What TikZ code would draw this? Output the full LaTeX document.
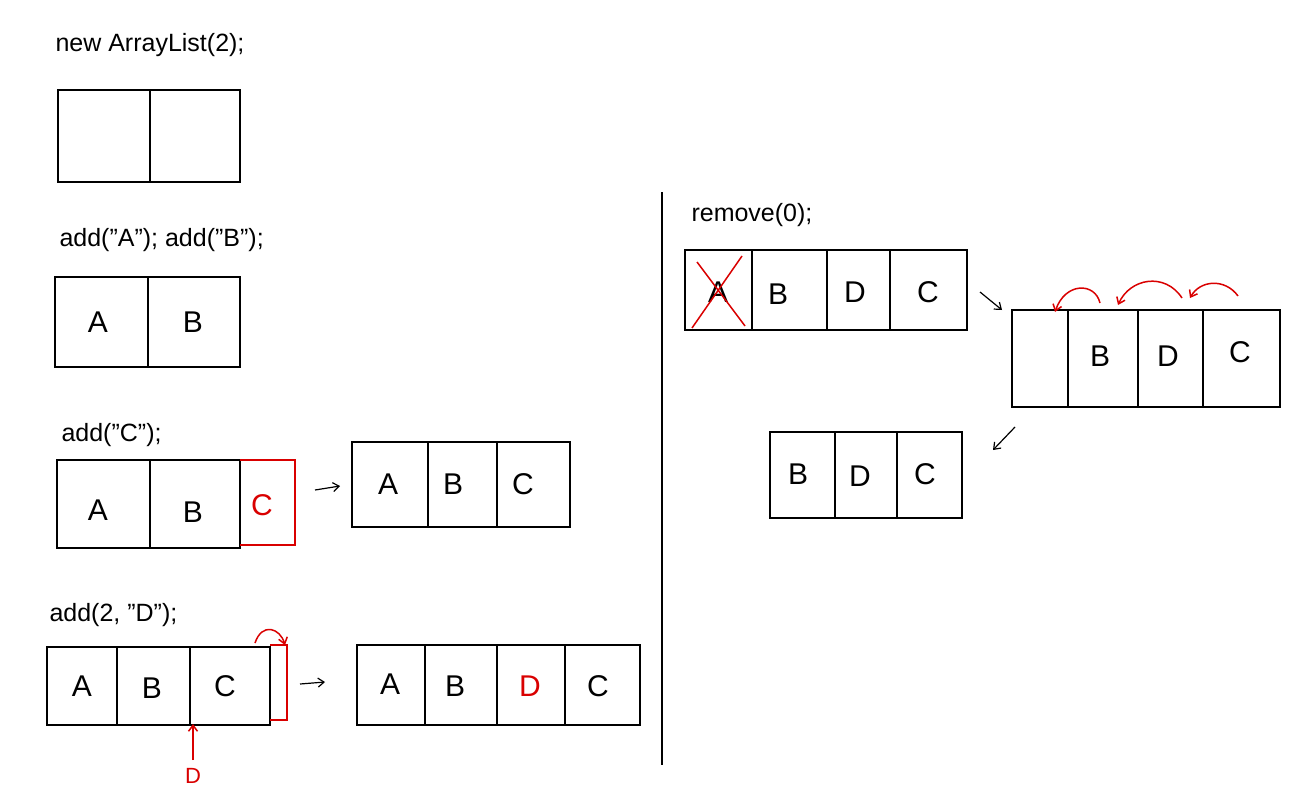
\documentclass[tikz,border=0pt]{standalone}
\usepackage{fontspec}
\setmainfont{Liberation Sans}
\usetikzlibrary{arrows.meta}
\newcommand{\dq}{{\char"22}}
\begin{document}
\begin{tikzpicture}[x=1pt,y=-1pt,
  box/.style={draw,line width=1.6pt},
  lbl/.style={font=\fontsize{30}{32}\selectfont},
  captxt/.style={font=\fontsize{25}{27}\selectfont,anchor=west},
  redln/.style={draw=red!85!black,line width=1.5pt},
  arr/.style={-{Straight Barb[length=6pt,width=9pt]}},
  thinarr/.style={line width=1.2pt,arr}]
\useasboundingbox (0,0) rectangle (1305,798);
% 1
\node[captxt] (t1) at (52,45) {new ArrayList(2);};
\draw[box] (58,90) rectangle (240,182); \draw[box] (150,90)--(150,182);
% 2
\node[captxt] (t2) at (56,240) {add(\dq A\dq); add(\dq B\dq);};
\draw[box] (55,277) rectangle (240,367); \draw[box] (148,277)--(148,367);
\node[lbl] (a2) at (98,322) {A}; \node[lbl] (b2) at (193,322) {B};
% 3
\node[captxt] (t3) at (58,435) {add(\dq C\dq);};
\draw[box] (57,460) rectangle (240,548); \draw[box] (150,460)--(150,548);
\node[lbl] (a3) at (98,510) {A}; \node[lbl] (b3) at (193,512) {B};
\draw[redln] (240,460)--(295,460)--(295,545)--(240,545);
\node[lbl,text=red!85!black] (c3) at (262,505) {C};
\coordinate (p1) at (315,490); \coordinate (p2) at (340,486);
\draw[thinarr] (p1)--(p2);
\draw[box] (352,442) rectangle (570,527); \draw[box] (428,442)--(428,527); \draw[box] (497,442)--(497,527);
\node[lbl] (a4) at (388,484) {A}; \node[lbl] (b4) at (453,484) {B}; \node[lbl] (c4) at (523,484) {C};
% 4
\node[captxt] (t4) at (46,615) {add(2, \dq D\dq);};
\draw[box] (47,647) rectangle (270,725); \draw[box] (117,647)--(117,725); \draw[box] (190,647)--(190,725);
\node[lbl] (a5) at (82,686) {A}; \node[lbl] (b5) at (152,688) {B}; \node[lbl] (c5) at (225,686) {C};
\draw[redln] (270,645)--(287,645)--(287,720)--(270,720);
\coordinate (q1) at (255,643); \coordinate (q2) at (285,645);
\draw[redln,arr] (q1) .. controls (262,622) and (280,628) .. (q2);
\coordinate (u1) at (193,760); \coordinate (u2) at (193,724);
\draw[redln,arr] (u1)--(u2);
\node[text=red!85!black,font=\fontsize{22}{24}\selectfont] (d5) at (193,776) {D};
\coordinate (r1) at (300,684); \coordinate (r2) at (325,682);
\draw[thinarr] (r1)--(r2);
\draw[box] (357,645) rectangle (640,725);
\foreach \x in {425,497,565} \draw[box] (\x,645)--(\x,725);
\node[lbl] (a6) at (390,684) {A}; \node[lbl] (b6) at (455,686) {B};
\node[lbl,text=red!85!black] (d6) at (530,686) {D}; \node[lbl] (c6) at (598,686) {C};
% divider
\draw[line width=1.5pt] (662,192)--(662,765);
% remove
\node[captxt] (t5) at (688,215) {remove(0);};
\draw[box] (685,250) rectangle (967,330);
\foreach \x in {752,827,890} \draw[box] (\x,250)--(\x,330);
\node[lbl] (a7) at (718,292) {A}; \node[lbl] (b7) at (778,294) {B};
\node[lbl] (d7) at (855,292) {D}; \node[lbl] (c7) at (928,292) {C};
\draw[redln] (697,262)--(745,326); \draw[redln] (742,256)--(692,328);
\coordinate (s1) at (980,292); \coordinate (s2) at (1002,310);
\draw[thinarr] (s1)--(s2);
\draw[box] (1012,310) rectangle (1280,407);
\foreach \x in {1068,1138,1203} \draw[box] (\x,310)--(\x,407);
\node[lbl] (b8) at (1100,356) {B}; \node[lbl] (d8) at (1168,356) {D}; \node[lbl] (c8) at (1240,352) {C};
\coordinate (k1) at (1238,296); \coordinate (k2) at (1190,298);
\coordinate (k3) at (1182,298); \coordinate (k4) at (1118,305);
\coordinate (k5) at (1100,303); \coordinate (k6) at (1055,312);
\draw[redln,arr] (k1) .. controls (1225,278) and (1200,280) .. (k2);
\draw[redln,arr] (k3) .. controls (1165,272) and (1130,278) .. (k4);
\draw[redln,arr] (k5) .. controls (1095,282) and (1065,282) .. (k6);
\coordinate (w1) at (1015,427); \coordinate (w2) at (993,450);
\draw[thinarr] (w1)--(w2);
\draw[box] (770,432) rectangle (962,518);
\foreach \x in {835,897} \draw[box] (\x,432)--(\x,518);
\node[lbl] (b9) at (798,474) {B}; \node[lbl] (d9) at (860,476) {D}; \node[lbl] (c9) at (925,474) {C};
\end{tikzpicture}
\end{document}
